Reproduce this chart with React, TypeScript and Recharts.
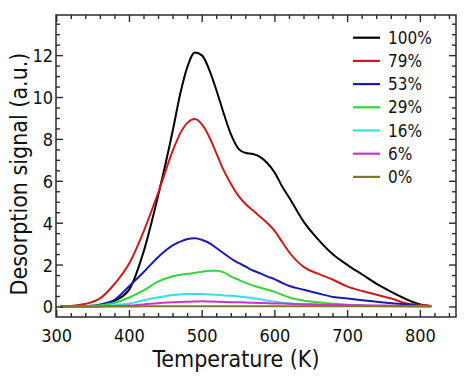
import React from "react";
import { LineChart, Line, XAxis, YAxis, Legend, ReferenceArea } from "recharts";

// Temperature grid (K)
const TEMPS = [305, 320, 340, 360, 380, 400, 420, 440, 460, 470, 480, 490, 500, 510, 520, 530, 540, 550, 560, 570, 580, 590, 600, 610, 620, 640, 660, 680, 700, 720, 740, 760, 780, 800, 815];

// Desorption signal (a.u.) for each coverage
const S100 = [0.02, 0.02, 0.03, 0.05, 0.3, 0.85, 2.7, 5.4, 8.5, 10.2, 11.5, 12.15, 12.0, 11.3, 10.3, 9.2, 8.2, 7.55, 7.35, 7.3, 7.15, 6.85, 6.4, 5.75, 5.2, 4.05, 3.2, 2.5, 2.0, 1.55, 1.1, 0.72, 0.38, 0.12, 0.05];
const S79 = [0.02, 0.05, 0.15, 0.42, 1.12, 2.1, 3.65, 5.5, 7.5, 8.3, 8.8, 8.97, 8.7, 8.1, 7.3, 6.5, 5.85, 5.3, 4.9, 4.6, 4.3, 4.0, 3.62, 3.1, 2.6, 1.9, 1.58, 1.3, 0.97, 0.76, 0.58, 0.4, 0.18, 0.1, 0.05];
const S53 = [0.02, 0.02, 0.04, 0.12, 0.35, 1.0, 1.68, 2.4, 2.95, 3.12, 3.24, 3.28, 3.2, 3.05, 2.8, 2.55, 2.3, 2.1, 1.92, 1.74, 1.6, 1.45, 1.32, 1.15, 1.0, 0.82, 0.64, 0.48, 0.4, 0.32, 0.25, 0.18, 0.12, 0.06, 0.03];
const S29 = [0.01, 0.01, 0.03, 0.08, 0.2, 0.45, 0.8, 1.22, 1.47, 1.54, 1.58, 1.63, 1.68, 1.73, 1.73, 1.65, 1.45, 1.3, 1.15, 1.02, 0.92, 0.82, 0.72, 0.58, 0.45, 0.3, 0.22, 0.15, 0.1, 0.07, 0.05, 0.04, 0.03, 0.02, 0.02];
const S16 = [0.01, 0.01, 0.02, 0.04, 0.08, 0.16, 0.32, 0.46, 0.57, 0.6, 0.62, 0.62, 0.62, 0.6, 0.58, 0.55, 0.53, 0.5, 0.46, 0.42, 0.37, 0.3, 0.25, 0.2, 0.16, 0.12, 0.09, 0.07, 0.05, 0.04, 0.04, 0.03, 0.03, 0.02, 0.02];
const S6 = [0.01, 0.01, 0.01, 0.02, 0.04, 0.07, 0.12, 0.18, 0.22, 0.24, 0.25, 0.26, 0.27, 0.26, 0.25, 0.24, 0.23, 0.22, 0.21, 0.2, 0.19, 0.18, 0.17, 0.16, 0.15, 0.13, 0.12, 0.1, 0.09, 0.08, 0.07, 0.06, 0.05, 0.04, 0.03];
const S0 = [0.02, 0.02, 0.02, 0.02, 0.02, 0.02, 0.03, 0.03, 0.03, 0.03, 0.03, 0.03, 0.03, 0.03, 0.03, 0.03, 0.03, 0.03, 0.03, 0.03, 0.03, 0.03, 0.03, 0.03, 0.03, 0.03, 0.03, 0.03, 0.03, 0.03, 0.03, 0.03, 0.03, 0.03, 0.03];

const SERIES_NAMES = ["100%", "79%", "53%", "29%", "16%", "6%", "0%"];
const SERIES_VALUES = [S100, S79, S53, S29, S16, S6, S0];
const SERIES_COLORS = ["#000000", "#cc1a1e", "#1c1ca6", "#33d633", "#33e0e6", "#cc33cc", "#7d7a26"];

// Axis domains and tick labels
const X_DOMAIN = [299, 849];
const Y_DOMAIN = [-0.48, 13.94];
const X_MAJOR = [300, 400, 500, 600, 700, 800];
const X_TICKS = [300, 320, 340, 360, 380, 400, 420, 440, 460, 480, 500, 520, 540, 560, 580, 600, 620, 640, 660, 680, 700, 720, 740, 760, 780, 800, 820, 840];
const Y_MAJOR = [0, 2, 4, 6, 8, 10, 12];
const Y_TICKS = [0, 0.5, 1, 1.5, 2, 2.5, 3, 3.5, 4, 4.5, 5, 5.5, 6, 6.5, 7, 7.5, 8, 8.5, 9, 9.5, 10, 10.5, 11, 11.5, 12, 12.5, 13, 13.5];

const rows = TEMPS.map((t, i) => {
  const r: any = { T: t };
  SERIES_NAMES.forEach((n, k) => {
    r[n] = SERIES_VALUES[k][i];
  });
  return r;
});

const FONT = "'DejaVu Sans Condensed', 'DejaVu Sans', sans-serif";
const AXIS = "#2a2a2a";
const TXT = "#111111";
const MARGIN = { top: 15, right: 18, bottom: 0, left: 0 };
const CHART_W = 474;
const PLOT_TOP = MARGIN.top;
const PLOT_RIGHT = CHART_W - MARGIN.right;

const BottomTick = (props: any) => {
  const { x, y, payload } = props;
  const len = X_MAJOR.includes(payload.value) ? 7 : 4;
  return (
    <g>
      <line x1={x} y1={y} x2={x} y2={y - len} stroke={AXIS} strokeWidth={1.4} />
      <line x1={x} y1={PLOT_TOP} x2={x} y2={PLOT_TOP + len} stroke={AXIS} strokeWidth={1.4} />
      {X_MAJOR.includes(payload.value) && (
        <text x={x} y={y + 25} textAnchor="middle" fontFamily={FONT} fontSize={18} fill={TXT}>
          {payload.value}
        </text>
      )}
    </g>
  );
};

const LeftTick = (props: any) => {
  const { x, y, payload } = props;
  const len = Y_MAJOR.includes(payload.value) ? 7 : 4;
  return (
    <g>
      <line x1={x} y1={y} x2={x + len} y2={y} stroke={AXIS} strokeWidth={1.4} />
      <line x1={PLOT_RIGHT} y1={y} x2={PLOT_RIGHT - len} y2={y} stroke={AXIS} strokeWidth={1.4} />
      {Y_MAJOR.includes(payload.value) && (
        <text x={x - 3} y={y + 6.5} textAnchor="end" fontFamily={FONT} fontSize={18} fill={TXT}>
          {payload.value}
        </text>
      )}
    </g>
  );
};

const XTitle = () => (
  <text x={236} y={367} textAnchor="middle" fontFamily={FONT} fontSize={23} fill={TXT}>
    Temperature (K)
  </text>
);

const YTitle = () => (
  <text
    x={0}
    y={0}
    transform="translate(27,174) rotate(-90)"
    textAnchor="middle"
    fontFamily={FONT}
    fontSize={23}
    fill={TXT}
  >
    Desorption signal (a.u.)
  </text>
);

const LegendBox = () => (
  <svg width={120} height={175} style={{ display: "block" }}>
    {SERIES_NAMES.map((n, i) => {
      const cy = 17.7 + i * 23.2;
      return (
        <g key={n}>
          <line x1={13} x2={40} y1={cy} y2={cy} stroke={SERIES_COLORS[i]} strokeWidth={2.2} />
          <text x={48} y={cy + 6} fontFamily={FONT} fontSize={17} fill={TXT}>
            {n}
          </text>
        </g>
      );
    })}
  </svg>
);

export default function App() {
  return (
    <div style={{ position: "absolute", left: 0, top: 0, width: 474, height: 384, background: "#fff" }}>
      <LineChart width={CHART_W} height={384} data={rows} margin={MARGIN}>
        <XAxis
          dataKey="T"
          type="number"
          domain={X_DOMAIN}
          ticks={X_TICKS}
          interval={0}
          height={67}
          tickSize={0}
          tickMargin={0}
          tickLine={false}
          tick={BottomTick}
          axisLine={false}
          label={XTitle}
        />
        <YAxis
          type="number"
          domain={Y_DOMAIN}
          ticks={Y_TICKS}
          interval={0}
          width={56}
          tickSize={0}
          tickMargin={0}
          tickLine={false}
          tick={LeftTick}
          axisLine={false}
          label={YTitle}
        />
        <ReferenceArea
          x1={X_DOMAIN[0]}
          x2={X_DOMAIN[1]}
          y1={Y_DOMAIN[0]}
          y2={Y_DOMAIN[1]}
          fill="none"
          fillOpacity={0}
          stroke={AXIS}
          strokeWidth={1.5}
          strokeOpacity={1}
          ifOverflow="visible"
        />
        <Legend
          layout="horizontal"
          verticalAlign="middle"
          align="center"
          content={LegendBox}
          wrapperStyle={{ position: "absolute", left: 340, top: 20, width: 120, height: 175 }}
        />
        {SERIES_NAMES.map((n, i) => (
          <Line
            key={n}
            dataKey={n}
            name={n}
            stroke={SERIES_COLORS[i]}
            strokeWidth={2}
            dot={false}
            activeDot={false}
            type="monotone"
            isAnimationActive={false}
          />
        ))}
      </LineChart>
    </div>
  );
}
